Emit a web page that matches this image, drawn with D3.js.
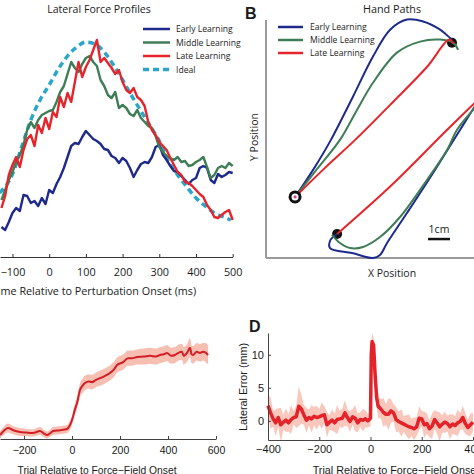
<!DOCTYPE html>
<html>
<head>
<meta charset="utf-8">
<script src="https://cdn.jsdelivr.net/npm/d3@7"></script>
<style>
  body { margin: 0; background: #fff; }
  svg { display: block; }
</style>
</head>
<body>
<div id="svg_area"></div>
<script>
var width = 474, height = 474;
var sansA = "'Open Sans', sans-serif", sansM = "'Liberation Sans', Arial, sans-serif";

// panel A: lateral force profiles (arbitrary force units), sampled every 10 ms
var forceTimes = d3.range(-130, 501, 10);
var earlyForce = [30, 27, 35, 44, 49, 46, 62, 61, 54, 56, 51, 59, 53, 67, 64, 73, 80, 89, 100, 111,
  114, 113, 120, 126, 122, 118, 116, 113, 108, 107, 101, 99, 94, 99, 96, 89, 80, 87, 93, 95,
  94, 100, 110, 112, 102, 97, 91, 86, 85, 81, 77, 73, 77, 79, 89, 91, 89, 77, 74, 83, 80, 82, 85, 84];
var middleForce = [57, 67, 77, 85, 95, 102, 112, 127, 135, 129, 137, 142, 144, 146, 147, 155, 165, 171, 183, 195,
  189, 185, 193, 199, 201, 195, 191, 177, 171, 162, 159, 165, 149, 152, 149, 143, 141, 147, 139, 135,
  131, 129, 121, 110, 105, 101, 99, 97, 100, 95, 96, 91, 92, 95, 97, 100, 90, 79, 82, 89, 91, 89, 94, 91];
var lateForce = [49, 61, 82, 92, 100, 90, 107, 118, 122, 111, 132, 124, 139, 128, 145, 140, 160, 150, 164, 155,
  175, 195, 180, 190, 197, 207, 217, 195, 199, 194, 189, 183, 187, 175, 167, 164, 169, 160, 157, 151,
  135, 127, 122, 115, 111, 107, 99, 92, 85, 82, 75, 74, 71, 67, 63, 60, 52, 47, 40, 39, 42, 45, 47, 37];
var idealTimes = [-135, -100, -75, -50, -25, 0, 25, 50, 75, 100, 125, 150, 175, 200, 225, 250, 275, 300, 325, 350, 375, 400, 425, 450, 475, 495];
var idealForce = [64, 83, 110, 137, 157, 172, 188, 201, 210, 215, 213, 205, 192, 177, 161, 146, 131, 116, 96, 82, 70, 59, 51, 44, 40, 37];
var timeTicks = [-100, 0, 100, 200, 300, 400, 500];

// panel B: hand paths, positions in cm
var earlyPath1 = [[1.32, 2.77], [2.14, 4.0], [2.95, 5.36], [3.95, 7.32], [4.86, 9.14], [5.64, 10.36], [6.41, 10.82], [7.14, 10.73], [7.91, 10.36], [8.45, 9.9]];
var middlePath1 = [[1.32, 2.77], [2.36, 4.09], [3.36, 5.36], [4.09, 6.64], [4.86, 7.95], [5.95, 9.32], [7.0, 9.82], [7.91, 9.91], [8.5, 9.77], [8.73, 9.45]];
var latePath1 = [[1.32, 2.77], [2.68, 4.09], [4.05, 5.36], [5.64, 6.95], [7.32, 8.68], [8.32, 9.91], [8.5, 9.73]];
var earlyPath2 = [[3.23, 1.09], [2.93, 0.82], [2.91, 0.45], [3.91, 0.23], [4.86, 0.0], [5.18, 0.14], [5.5, 0.68], [6.41, 2.05], [7.59, 3.86], [8.82, 5.82], [9.45, 6.82], [9.82, 7.36]];
var middlePath2 = [[3.0, 1.05], [3.36, 0.68], [3.82, 0.45], [4.41, 0.5], [5.18, 0.95], [6.09, 1.86], [7.32, 3.55], [8.23, 4.91], [8.68, 5.82], [9.41, 6.73], [9.8, 7.2]];
var latePath2 = [[3.23, 1.09], [5.7, 3.3], [8.23, 5.82], [9.8, 7.35]];
var startTarget = [1.32, 2.77];
var endTargets = [[8.45, 9.77], [3.23, 1.09]];

// panel C: adaptation over trials (arbitrary units)
var adaptTrials = [-300, -285, -267, -245, -217, -190, -163, -133, -118, -104, -90, -79, -50, -21, -8, 4, 12, 21, 33, 45,
  54, 70, 83, 100, 117, 138, 158, 175, 188, 213, 233, 250, 271, 300, 325, 350, 367, 383, 396, 413,
  429, 445, 458, 465, 471, 480, 492, 498, 504, 520, 533, 546, 557, 567];
var adaptMean = [0, 5, 8.75, 6, 3.75, 3, 2.5, 5, 2, 0, 2.5, 5, 6, 7.5, 12.5, 22.5, 32, 40, 56, 62,
  65, 67, 66, 69, 71, 74, 77.5, 82, 87.5, 91, 96, 96, 97.5, 98, 99, 98, 100, 101, 102.5, 99,
  100, 103, 104, 99, 100, 103, 109, 101, 100, 104, 102.5, 104, 103, 100];
var adaptSem = [5, 5, 5.5, 5, 5, 4.5, 4.5, 5, 4.5, 4.5, 4.5, 5, 5, 5, 5.5, 6, 7, 8, 8.5, 9,
  9, 9, 9, 9, 9.5, 9.5, 9.5, 9.5, 9.5, 9.5, 9.5, 9.5, 9.5, 10, 10, 10, 10, 10, 10, 10,
  10, 10, 10, 11, 11, 11, 12, 11, 11, 11, 11, 11, 12, 12];
var adaptTicks = [-200, 0, 200, 400, 600];

// panel D: lateral error (mm)
var errTrials = [-400, -390, -380, -370, -360, -350, -340, -330, -320, -310, -300, -290, -280, -270, -260, -250, -240, -230, -220, -210,
  -200, -190, -180, -170, -160, -150, -140, -130, -120, -110, -100, -90, -80, -70, -60, -50, -40, -30, -20, -10,
  0, 3, 6, 12, 18, 24, 30, 40, 50, 60, 70, 80, 90, 100, 110, 120, 130, 140, 150, 160,
  170, 180, 190, 200, 210, 220, 230, 240, 250, 260, 270, 280, 290, 300, 310, 320, 330, 340, 350, 360,
  370, 380, 390, 400];
var errMean = [2.3, 1.2, 0.3, -0.3, 0.5, -0.6, -0.2, 0.1, -0.3, 0.2, 0.5, 0.6, 2.2, 1.8, 0.9, 0.1, 0.5, 0.3, 0.7, 0.5,
  0.6, 0.8, 0.9, -0.6, -0.2, 0.1, -0.3, 0.2, 0.3, 0.4, 1.2, 0.5, -0.1, 0.6, 0.4, -0.3, 0.2, 0.1, 0.3, 0,
  0.4, 10, 12, 11.5, 7, 3.5, 2.2, 1.8, 1.3, 1.0, 1.0, 1.5, 1.2, 0.2, -0.1, -0.3, -0.5, -0.7, -0.9, -1.0,
  -1.2, -0.9, 0.4, 0.3, -0.6, -0.4, -1.2, -0.8, 0.2, -0.3, -0.9, -0.5, -0.2, -0.4, -0.9, -0.5, -0.7, -0.3, -0.1, 0.5,
  -0.4, -1.0, -0.6, -0.2];
var errSpread = [1.6, 2.4, 1.2, 2.0, 1.4, 2.6, 1.1, 1.8, 1.3, 2.2, 1.0, 1.7, 3.0, 2.2, 1.5, 1.9, 1.2, 2.1, 1.4, 1.8,
  1.2, 2.0, 1.3, 1.9, 1.1, 1.6, 1.4, 2.2, 1.2, 1.5, 1.9, 1.3, 1.6, 1.2, 2.0, 1.4, 1.1, 1.7, 1.3, 1.0,
  1.2, 1.2, 1.3, 1.1, 1.4, 1.5, 1.8, 1.4, 2.2, 1.6, 2.4, 1.8, 1.3, 1.9, 1.5, 2.1, 1.2, 1.6, 1.9, 1.3,
  1.7, 1.4, 1.8, 1.2, 2.0, 1.5, 1.3, 1.9, 1.4, 1.7, 2.2, 1.3, 1.6, 1.2, 1.9, 1.5, 1.4, 2.0, 1.3, 1.8,
  1.6, 1.2, 1.7, 1.4];
var errXTicks = [-400, -200, 0, 200, 400];
var errYTicks = [0, 5, 10];

var learnNames = ["Early Learning", "Middle Learning", "Late Learning", "Ideal"];
var learnColors = ["#1d2a8b", "#3f7d57", "#e5252b", "#2ca6c8"];

var svg = d3.select("#svg_area").append("svg")
  .attr("width", width)
  .attr("height", height)
  .attr("viewBox", [0, 0, width, height]);

function styleAxis(g, font, size, color) {
  g.attr("font-family", font).attr("font-size", size);
  g.selectAll("text").attr("fill", "#1a1a1a");
  g.selectAll("line, path").attr("stroke", color);
}

function label(txt, x, y, font, size, opts) {
  opts = opts || {};
  var t = svg.append("text")
    .attr("x", x).attr("y", y)
    .attr("font-family", font)
    .attr("font-size", size)
    .attr("text-anchor", opts.anchor || "middle")
    .attr("font-weight", opts.bold ? "bold" : "normal")
    .attr("fill", "#1a1a1a")
    .text(txt);
  if (opts.rotate) t.attr("transform", "rotate(-90," + x + "," + y + ")");
  return t;
}

// ---------- panel A
function drawForce() {
  var x = d3.scaleLinear().domain([-134, 500]).range([0, 232.7]);
  var y = d3.scaleLinear().domain([0, 216]).range([257, 41]);
  var g = svg.append("g");

  var ax = g.append("g").attr("transform", "translate(0,257)")
    .call(d3.axisBottom(x).tickValues(timeTicks).tickSizeInner(-3).tickSizeOuter(0).tickPadding(11).tickFormat(d3.format("d")));
  styleAxis(ax, sansA, 10.8, "#333");

  var line = d3.line().x(function (d) { return x(d[0]); }).y(function (d) { return y(d[1]); });

  g.append("path")
    .datum(d3.zip(idealTimes, idealForce))
    .attr("d", line.curve(d3.curveMonotoneX))
    .attr("fill", "none").attr("stroke", learnColors[3])
    .attr("stroke-width", 3.5).attr("stroke-dasharray", "6,4");

  line.curve(d3.curveLinear);
  [earlyForce, middleForce, lateForce].forEach(function (vals, i) {
    g.append("path")
      .datum(d3.zip(forceTimes, vals))
      .attr("d", line)
      .attr("fill", "none").attr("stroke", learnColors[i])
      .attr("stroke-width", 2.4).attr("stroke-linejoin", "round");
  });

  // legend
  learnNames.forEach(function (name, i) {
    var ly = 29 + i * 13.5;
    g.append("line").attr("x1", 143).attr("x2", 170).attr("y1", ly).attr("y2", ly)
      .attr("stroke", learnColors[i]).attr("stroke-width", i == 3 ? 3.5 : 2.5)
      .attr("stroke-dasharray", i == 3 ? "6,4" : null);
    g.append("text").attr("x", 176).attr("y", ly + 3.2)
      .attr("font-family", sansA).attr("font-size", 8.6).attr("fill", "#1a1a1a").text(name);
  });

  label("Lateral Force Profiles", 99, 13, sansA, 10.6);
  label("Time Relative to Perturbation Onset (ms)", 94, 295, sansA, 10.8);
}

// ---------- panel B
function drawPaths() {
  var x = d3.scaleLinear().domain([0, 9.45]).range([266, 474]);
  var y = d3.scaleLinear().domain([0, 10.8]).range([258, 20]);
  var g = svg.append("g");

  g.append("line").attr("x1", x(0)).attr("x2", x(0)).attr("y1", y(10.8)).attr("y2", y(0))
    .attr("stroke", "#9a9a9a").attr("stroke-width", 2);
  g.append("line").attr("x1", x(0)).attr("x2", width).attr("y1", y(0)).attr("y2", y(0))
    .attr("stroke", "#9a9a9a").attr("stroke-width", 2);

  endTargets.forEach(function (p) {
    g.append("circle").attr("cx", x(p[0])).attr("cy", y(p[1])).attr("r", 5).attr("fill", "#111");
  });

  var line = d3.line().x(function (d) { return x(d[0]); }).y(function (d) { return y(d[1]); })
    .curve(d3.curveCatmullRom);
  var paths = [[earlyPath1, 0], [middlePath1, 1], [latePath1, 2], [earlyPath2, 0], [middlePath2, 1], [latePath2, 2]];
  paths.forEach(function (p) {
    g.append("path").datum(p[0]).attr("d", line)
      .attr("fill", "none").attr("stroke", learnColors[p[1]]).attr("stroke-width", 2);
  });

  g.append("circle").attr("cx", x(startTarget[0])).attr("cy", y(startTarget[1])).attr("r", 5)
    .attr("fill", "#fff").attr("stroke", "#111").attr("stroke-width", 3);
  g.append("circle").attr("cx", x(startTarget[0])).attr("cy", y(startTarget[1])).attr("r", 1.6)
    .attr("fill", "#d04a8a");

  // legend
  learnNames.slice(0, 3).forEach(function (name, i) {
    var ly = 27 + i * 13;
    g.append("line").attr("x1", 278).attr("x2", 303).attr("y1", ly).attr("y2", ly)
      .attr("stroke", learnColors[i]).attr("stroke-width", 2.5);
    g.append("text").attr("x", 310).attr("y", ly + 3.2)
      .attr("font-family", sansA).attr("font-size", 8.6).attr("fill", "#1a1a1a").text(name);
  });

  // 1cm scale bar
  g.append("line").attr("x1", x(7.36)).attr("x2", x(8.36)).attr("y1", y(0.86)).attr("y2", y(0.86))
    .attr("stroke", "#111").attr("stroke-width", 2.5);
  label("1cm", x(7.86), 233, sansA, 10.5);

  label("B", 245, 19, sansM, 16, { bold: true, anchor: "start" });
  label("Hand Paths", 392, 13, sansA, 10.8);
  label("X Position", 392, 277, sansA, 10.5);
  label("Y Position", 258, 137, sansA, 10.5, { rotate: true });
}

// ---------- panel C
function drawAdapt() {
  var x = d3.scaleLinear().domain([-300, 600]).range([0, 216]);
  var y = d3.scaleLinear().domain([0, 100]).range([435, 355]);
  var g = svg.append("g");
  var rows = adaptTrials.map(function (t, i) { return { t: t, m: adaptMean[i], s: adaptSem[i] }; });

  g.append("path").datum(rows)
    .attr("d", d3.area().x(function (d) { return x(d.t); })
      .y0(function (d) { return y(d.m - d.s); }).y1(function (d) { return y(d.m + d.s); })
      .curve(d3.curveMonotoneX))
    .attr("fill", "#f4a898").attr("opacity", 0.75);
  g.append("path").datum(rows)
    .attr("d", d3.line().x(function (d) { return x(d.t); }).y(function (d) { return y(d.m); }).curve(d3.curveMonotoneX))
    .attr("fill", "none").attr("stroke", "#d21f27").attr("stroke-width", 2);

  var ax = g.append("g").attr("transform", "translate(0,439)")
    .call(d3.axisBottom(x).tickValues(adaptTicks).tickSizeInner(-3).tickSizeOuter(0).tickPadding(7.5));
  styleAxis(ax, sansM, 10.5, "#444");

  label("Trial Relative to Force\u2212Field Onset", 97, 474, sansM, 10.3);
}

// ---------- panel D
function drawError() {
  var x = d3.scaleLinear().domain([-400, 400]).range([268, 473]);
  var y = d3.scaleLinear().domain([-2.9, 13.3]).range([440, 333]);
  var g = svg.append("g");

  g.append("path").datum(errTrials)
    .attr("d", d3.area().x(function (d) { return x(d); })
      .y0(function (d, i) { return y(errMean[i] - errSpread[i]); })
      .y1(function (d, i) { return y(errMean[i] + errSpread[i]); }))
    .attr("fill", "#f7b9aa").attr("opacity", 0.8);
  g.append("path").datum(errTrials)
    .attr("d", d3.line().x(function (d) { return x(d); }).y(function (d, i) { return y(errMean[i]); }))
    .attr("fill", "none").attr("stroke", "#e3222a").attr("stroke-width", 3.5).attr("stroke-linejoin", "round");

  var ax = g.append("g").attr("transform", "translate(0,440)")
    .call(d3.axisBottom(x).tickValues(errXTicks).tickSizeInner(-3).tickSizeOuter(0).tickPadding(5));
  styleAxis(ax, sansM, 11, "#444");
  var ay = g.append("g").attr("transform", "translate(268,0)")
    .call(d3.axisLeft(y).tickValues(errYTicks).tickSizeInner(-3).tickSizeOuter(0).tickPadding(4));
  styleAxis(ay, sansM, 11, "#444");

  label("D", 249, 332, sansM, 16, { bold: true, anchor: "start" });
  label("Lateral Error (mm)", 247, 387, sansM, 10.8, { rotate: true });
  label("Trial Relative to Force\u2212Field Onset", 396, 474, sansM, 10.8);
}

drawForce();
drawPaths();
drawAdapt();
drawError();
</script>
</body>
</html>
